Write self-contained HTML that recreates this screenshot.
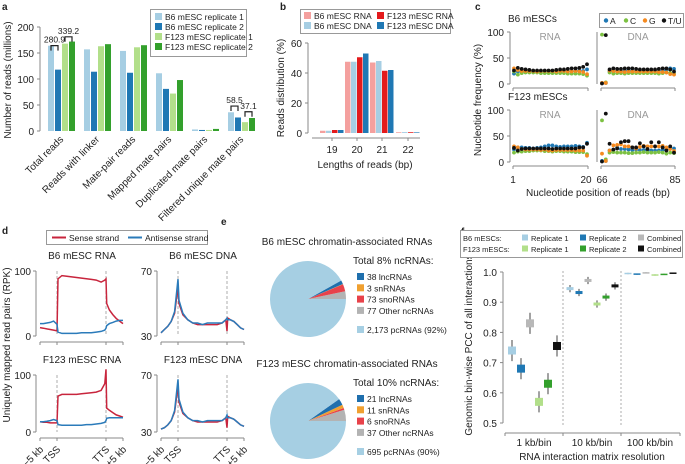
<!DOCTYPE html>
<html><head><meta charset="utf-8"><style>
html,body{margin:0;padding:0;background:#fff;}
svg{display:block;font-family:"Liberation Sans",Arial,sans-serif;}
</style></head><body>
<svg id="root" width="685" height="464" viewBox="0 0 685 464" xmlns="http://www.w3.org/2000/svg"></svg>
<script>
// ---------- Panel a data ----------
const aCats = ["Total reads","Reads with linker","Mate-pair reads","Mapped mate pairs","Duplicated mate pairs","Filtered unique mate pairs"];
const aRep1B6 = [164,157,154,111,3,36];
const aRep2B6 = [118,114,112,81,2,26];
const aRep1F = [168,163,161,72,2,17];
const aRep2F = [172,167,165,98,4,25];
const aTicks = [0,50,100,150,200];
// ---------- Panel b data ----------
const bCats = ["19","20","21","22"];
const bB6RNA = [1.5,47.5,47,0.5];
const bB6DNA = [1.5,47.5,48,0.6];
const bFRNA = [2,50.5,41.5,0.5];
const bFDNA = [2,53,42,0.4];
const bTicks = [0,20,40,60];
// ---------- Panel c data ----------
const cB6RnaA=[20,24,23,24,24,24,24,24,24,25,25,25,24,25,25,24,25,26,25,28];
const cB6RnaC=[24,18,21,22,22,22,22,21,21,21,21,21,21,21,20,20,20,20,19,16];
const cB6RnaG=[30,27,25,25,25,25,24,25,25,25,25,24,25,25,24,24,25,24,23,19];
const cB6RnaT=[26,31,29,28,27,26,26,26,26,26,26,27,28,28,29,30,30,31,33,38];
const cB6DnaA=[2,2,24,25,25,25,26,26,25,25,25,26,25,25,25,26,26,27,30,29];
const cB6DnaC=[95,3,22,20,21,21,20,21,21,21,21,21,21,21,21,20,21,22,21,20];
const cB6DnaG=[2,2,26,25,24,24,23,24,24,24,24,24,24,24,24,23,23,22,19,18];
const cB6DnaT=[1,94,28,30,29,29,30,30,30,29,28,28,28,28,28,29,30,30,28,24];
const cFRnaA=[24,28,28,27,27,26,27,28,30,32,32,30,29,30,30,30,31,30,29,37];
const cFRnaC=[18,20,20,21,21,22,22,22,21,21,20,21,21,20,20,20,19,19,19,15];
const cFRnaG=[30,28,25,24,24,24,24,23,24,22,22,23,23,23,23,23,22,22,22,12];
const cFRnaT=[27,22,25,26,26,26,26,26,26,26,25,26,26,26,26,26,26,28,28,35];
const cFDnaA=[2,2,22,23,28,25,25,24,23,24,23,23,22,22,22,22,23,24,28,26];
const cFDnaC=[80,5,18,19,18,18,18,17,17,18,18,19,18,18,18,19,18,16,18,17];
const cFDnaG=[16,2,22,32,33,34,30,30,28,26,29,31,30,30,30,30,31,28,25,21];
const cFDnaT=[1,93,35,24,26,38,40,40,28,28,36,30,25,38,30,38,28,22,30,18];
// ---------- Panel d data (metagene coordinate: 0=-5kb,10=TSS,30=TTS,40=+5kb) ----------
const dPos=[0,2,4,6,8,10,10.4,12,14,16,18,20,22,24,26,28,29.5,30,30.4,32,34,36,38,40];
const dB6RnaSense=[13,12,11,10,9,8,88,93,92,91,90,89,88,87,86,83,86,88,50,40,33,27,23,19];
const dB6RnaAnti=[19,19,20,21,23,18,6,4,4,4,4,5,5,5,6,7,9,12,16,19,21,23,24,24];
const dFRnaSense=[18,17,17,16,16,16,63,66,66,66,66,67,68,69,70,73,85,110,42,38,34,30,28,26];
const dFRnaAnti=[18,18,19,20,22,20,13,12,12,12,12,12,13,13,14,15,17,20,24,25,25,25,25,25];
const dB6DnaSense=[32,34,36,39,44,60,50,43,40,38,37,37,37,37,37,38,40,33,41,40,39,37,35,34];
const dB6DnaAnti=[32,34,36,39,45,65,52,44,40,38,38,37,38,38,38,38,40,41,40,40,39,37,35,34];
const dFDnaSense=[32,33,35,38,44,62,51,43,40,38,37,37,37,37,37,38,40,33,41,40,39,37,35,34];
const dFDnaAnti=[32,33,35,38,45,67,53,44,40,38,38,37,38,38,38,38,40,42,40,40,39,37,35,34];
// ---------- Panel e data ----------
const eLabels=["lncRNAs","snRNAs","snoRNAs","Other ncRNAs","pcRNAs"];
const eB6=[38,3,73,77,2173];
const eF=[21,11,6,37,695];
// ---------- Panel f data ----------
const fRes=["1 kb/bin","10 kb/bin","100 kb/bin"];
const fSeries=["B6 Replicate 1","B6 Replicate 2","B6 Combined","F123 Replicate 1","F123 Replicate 2","F123 Combined"];
const f1kb=[0.74,0.68,0.83,0.57,0.63,0.755];
const f10kb=[0.945,0.932,0.972,0.894,0.917,0.954];
const f100kb=[0.995,0.993,0.997,0.99,0.992,0.996];
const fErr=[0.035,0.012,0.002];
const fTicks=[0.5,0.6,0.7,0.8,0.9,1.0];

const NS="http://www.w3.org/2000/svg";
const root=document.getElementById('root');
function mk(tag,attrs,name,inter){
  const el=document.createElementNS(NS,tag);
  for(const k in attrs) el.setAttribute(k,attrs[k]);
  
  
  root.appendChild(el);return el;
}
function txt(x,y,s,name,opt){
  opt=opt||{};
  const el=mk('text',{x:x,y:y,'font-size':opt.fs||10,fill:opt.fill||'#222','text-anchor':opt.anchor||'start','font-weight':opt.bold?'bold':'normal'},name);
  if(opt.rot!==undefined) el.setAttribute('transform','rotate('+opt.rot+' '+x+' '+y+')');
  el.textContent=s;return el;
}
function line(x1,y1,x2,y2,name,st,w,dash){
  const el=mk('line',{x1:x1,y1:y1,x2:x2,y2:y2,stroke:st||'#888','stroke-width':w||1},name);
  if(dash) el.setAttribute('stroke-dasharray',dash);
  return el;
}
function rect(x,y,w,h,fill,name,stroke){
  const el=mk('rect',{x:x,y:y,width:w,height:h,fill:fill},name);
  if(stroke){el.setAttribute('stroke',stroke);}
  return el;
}
const LB='#a6cee3',DB='#1f78b4',LG='#b2df8a',DG='#33a02c',PK='#f4a09e',RD='#e31a1c';

// ================= Panel a =================
txt(2,10,'a','panel-a-label',{bold:true});
const aY=v=>131-v*0.52;
const aX0=48,aStep=36;
line(40,aY(0),40,aY(200),'a-y-axis');
aTicks.forEach(t=>{line(37,aY(t),40,aY(t),'a-y-tick');txt(34,aY(t)+4,String(t),'a-y-tick-label',{anchor:'end',fs:10});});
txt(11,80,'Number of reads (millions)','a-y-axis-title',{anchor:'middle',rot:-90});
const aSeries=[[aRep1B6,LB],[aRep2B6,DB],[aRep1F,LG],[aRep2F,DG]];
aCats.forEach((c,i)=>{
  aSeries.forEach((s,j)=>{
    const v=s[0][i];
    const r=rect(aX0+i*aStep+j*7,aY(v),6,v*0.52,s[1],'a-bar');
  });
  const cx=aX0+i*aStep+13;
  txt(cx+3,140,c,'a-x-tick-label',{anchor:'end',rot:-45,fs:10});
});
function bracket(x1,x2,y,label,name){
  const p=mk('path',{d:'M'+x1+' '+(y+5)+'V'+y+'H'+x2+'V'+(y+5),fill:'none',stroke:'#222','stroke-width':1.2},name+'-bracket');
  txt((x1+x2)/2,y-3,label,name+'-label',{anchor:'middle',fs:8.5});
}
bracket(51,58,aY(168)+2,'280.9','a-total-b6');
bracket(65,72,aY(185)+2,'339.2','a-total-f123');
bracket(231,238,aY(48),'58.5','a-filtered-b6');
bracket(245,252,aY(37),'37.1','a-filtered-f123');
rect(150.5,9.5,96,47,'#fff','a-legend','#999');
[['B6 mESC replicate 1',LB],['B6 mESC replicate 2',DB],['F123 mESC replicate 1',LG],['F123 mESC replicate 2',DG]].forEach((e,i)=>{
  rect(155,13+i*10,7,7,e[1],'a-legend-swatch');
  txt(165,20+i*10,e[0],'a-legend-entry',{fs:8.5});
});

// ================= Panel b =================
txt(280,10,'b','panel-b-label',{bold:true});
const bY=v=>133-v*1.5;
line(308,bY(0),308,bY(60),'b-y-axis');
bTicks.forEach(t=>{line(305,bY(t),308,bY(t),'b-y-tick');txt(302,bY(t)+4,String(t),'b-y-tick-label',{anchor:'end'});});
line(312,138,420,138,'b-x-axis');
const bCx=[332,357,382,408];
bCats.forEach((c,i)=>{
  line(bCx[i],138,bCx[i],141,'b-x-tick');
  txt(bCx[i],153,c,'b-x-tick-label',{anchor:'middle'});
  [[bB6RNA,PK],[bB6DNA,LB],[bFRNA,RD],[bFDNA,DB]].forEach((s,j)=>{
    const v=s[0][i];
    rect(bCx[i]-12+j*6,bY(v),5.5,v*1.5,s[1],'b-bar');
  });
});
txt(365,168,'Lengths of reads (bp)','b-x-axis-title',{anchor:'middle'});
txt(284,88,'Reads distribution (%)','b-y-axis-title',{anchor:'middle',rot:-90});
rect(300.5,9.5,150,24,'#fff','b-legend','#999');
[['B6 mESC RNA',PK,303,19],['F123 mESC RNA',RD,376,19],['B6 mESC DNA',LB,303,29],['F123 mESC DNA',DB,376,29]].forEach(e=>{
  rect(e[2]+1,e[3]-7,7,7,e[1],'b-legend-swatch');
  txt(e[2]+11,e[3],e[0],'b-legend-entry',{fs:8.5});
});

// ================= Panel c =================
txt(475,10,'c','panel-c-label',{bold:true});
const cCols=['#1f78b4','#7cc142','#f58a1f','#111'];
function cPanel(top,title,rna,dna,nm){
  const Y=v=>top+52-v*0.52;
  txt(508,top-10,title,'c-title-'+nm);
  line(510,Y(0),510,Y(100),'c-y-axis-'+nm);
  line(597,Y(0),597,Y(100),'c-dna-y-axis-'+nm);
  [0,50,100].forEach(t=>{line(507,Y(t),510,Y(t),'c-y-tick');txt(504,Y(t)+4,String(t),'c-y-tick-label',{anchor:'end'});});
  line(513,top+56,588,top+56,'c-rna-x-axis');line(513,top+56,513,top+59,'c-x-tick');line(588,top+56,588,top+59,'c-x-tick');
  line(601,top+56,675,top+56,'c-dna-x-axis');line(601,top+56,601,top+59,'c-x-tick');line(675,top+56,675,top+59,'c-x-tick');
  txt(550,top+8,'RNA','c-rna-label',{anchor:'middle',fill:'#999'});
  txt(638,top+8,'DNA','c-dna-label',{anchor:'middle',fill:'#999'});
  const X1=i=>514+i*(73/19), X2=i=>602+i*(72/19);
  [[rna,X1],[dna,X2]].forEach(p=>{
    p[0].forEach((arr,k)=>{arr.forEach((v,i)=>{
      mk('circle',{cx:p[1](i),cy:Y(v),r:1.9,fill:cCols[k]},'c-point');
    });});
  });
}
cPanel(32,'B6 mESCs',[cB6RnaA,cB6RnaC,cB6RnaG,cB6RnaT],[cB6DnaA,cB6DnaC,cB6DnaG,cB6DnaT],'b6');
cPanel(110,'F123 mESCs',[cFRnaA,cFRnaC,cFRnaG,cFRnaT],[cFDnaA,cFDnaC,cFDnaG,cFDnaT],'f123');
txt(513,183,'1','c-x-tick-label',{anchor:'middle'});
txt(586,183,'20','c-x-tick-label',{anchor:'middle'});
txt(602,183,'66','c-x-tick-label',{anchor:'middle'});
txt(675,183,'85','c-x-tick-label',{anchor:'middle'});
txt(598,196,'Nucleotide position of reads (bp)','c-x-axis-title',{anchor:'middle'});
txt(481,100,'Nucleotide frequency (%)','c-y-axis-title',{anchor:'middle',rot:-90});
rect(599.5,13.5,84,14,'#fff','c-legend','#999');
[['A',603],['C',623],['G',642],['T/U',661]].forEach((e,k)=>{
  mk('circle',{cx:e[1]+3,cy:20.5,r:2.2,fill:cCols[k]},'c-legend-marker');
  txt(e[1]+7,24,e[0],'c-legend-entry',{fs:8.5});
});

// ================= Panel d =================
txt(2,234,'d','panel-d-label',{bold:true});
rect(46.5,230.5,161,14,'#fff','d-legend','#999');
line(52,237.5,66,237.5,'d-legend-sense-line','#c8253d',2);
txt(69,241,'Sense strand','d-legend-entry',{fs:8.5});
line(128,237.5,142,237.5,'d-legend-anti-line','#2b7bba',2);
txt(145,241,'Antisense strand','d-legend-entry',{fs:8.5});
function dPanel(x0,top,bot,ymin,ymax,title,sense,anti,ticks,nm){
  const X=u=> u<=10? x0+u*1.7 : (u<=30? x0+17+(u-10)*2.45 : x0+66+(u-30)*1.7);
  const Y=v=> bot-(v-ymin)/(ymax-ymin)*(bot-top);
  txt(x0+42,top-12,title,'d-title-'+nm,{anchor:'middle'});
  line(x0-4,bot,x0-4,top,'d-y-axis');
  ticks.forEach(t=>{line(x0-7,Y(t),x0-4,Y(t),'d-y-tick');txt(x0-9,Y(t)+4,String(t),'d-y-tick-label',{anchor:'end'});});
  line(x0,bot+6,x0+83,bot+6,'d-x-axis');
  [0,10,30,40].forEach(u=>line(X(u),bot+6,X(u),bot+9,'d-x-tick'));
  line(X(10),top,X(10),bot,'d-tss-line','#999',0.8,'3,2');
  line(X(30),top,X(30),bot,'d-tts-line','#999',0.8,'3,2');
  [[sense,'#c8253d','d-sense-line'],[anti,'#2b7bba','d-antisense-line']].forEach(s=>{
    const d=s[0].map((v,i)=>(i?'L':'M')+X(dPos[i]).toFixed(1)+' '+Y(v).toFixed(1)).join('');
    mk('path',{d:d,fill:'none',stroke:s[1],'stroke-width':1.5},s[2]);
  });
  return X;
}
dPanel(40,271,336,0,100,'B6 mESC RNA',dB6RnaSense,dB6RnaAnti,[0,100],'b6-rna');
const XL=dPanel(40,375,432,0,100,'F123 mESC RNA',dFRnaSense,dFRnaAnti,[0,100],'f-rna');
dPanel(161,271,336,30,70,'B6 mESC DNA',dB6DnaSense,dB6DnaAnti,[30,70],'b6-dna');
const XR=dPanel(161,375,432,30,70,'F123 mESC DNA',dFDnaSense,dFDnaAnti,[30,70],'f-dna');
[[XL,0,'−5 kb'],[XL,10,'TSS'],[XL,30,'TTS'],[XL,40,'+5 kb'],[XR,0,'−5 kb'],[XR,10,'TSS'],[XR,30,'TTS'],[XR,40,'+5 kb']].forEach(e=>{
  txt(e[0](e[1])+4,450,e[2],'d-x-tick-label',{anchor:'end',rot:-45});
});
txt(10,345,'Uniquely mapped read pairs (RPK)','d-y-axis-title',{anchor:'middle',rot:-90});

// ================= Panel e =================
txt(221,225,'e','panel-e-label',{bold:true});
const eCols=['#1f6fad','#f0a030','#e8424a','#b3b3b3','#a6cfe3'];
function pie(cx,cy,r,vals,nm){
  const tot=vals.reduce((a,b)=>a+b,0);
  // draw order CCW from 0 deg: other, sno, sn, lnc, pc
  const order=[3,2,1,0,4];
  let a=0;
  order.forEach(k=>{
    const a2=a+vals[k]/tot*2*Math.PI;
    const x1=cx+r*Math.cos(a),y1=cy-r*Math.sin(a),x2=cx+r*Math.cos(a2),y2=cy-r*Math.sin(a2);
    const large=(a2-a)>Math.PI?1:0;
    mk('path',{d:'M'+cx+' '+cy+'L'+x1.toFixed(2)+' '+y1.toFixed(2)+'A'+r+' '+r+' 0 '+large+' 0 '+x2.toFixed(2)+' '+y2.toFixed(2)+'Z',fill:eCols[k]},'e-slice-'+nm);
    a=a2;
  });
}
function eBlock(top,title,vals,pct,pcPct,nm){
  txt(347,top,title,'e-title-'+nm,{anchor:'middle'});
  pie(308,top+54,38,vals,nm);
  txt(353,top+19,'Total '+pct+'% ncRNAs:','e-total-'+nm);
  for(let k=0;k<4;k++){
    rect(357,top+28+k*11.3,7,7,eCols[k],'e-legend-swatch');
    txt(367,top+35+k*11.3,vals[k]+' '+eLabels[k],'e-legend-entry',{fs:8.5});
  }
  rect(357,top+81,7,7,eCols[4],'e-legend-swatch');
  txt(367,top+88,vals[4].toLocaleString('en-US')+' pcRNAs ('+pcPct+'%)','e-legend-entry',{fs:8.5});
}
eBlock(245,'B6 mESC chromatin-associated RNAs',eB6,8,92,'b6');
eBlock(367,'F123 mESC chromatin-associated RNAs',eF,10,90,'f123');

// ================= Panel f =================
txt(461,235,'f','panel-f-label',{bold:true});
const fY=v=>423-(v-0.5)*302;
line(503,fY(0.5),503,fY(1.0),'f-y-axis');
fTicks.forEach(t=>{line(500,fY(t),503,fY(t),'f-y-tick');txt(497,fY(t)+4,t.toFixed(1),'f-y-tick-label',{anchor:'end'});});
line(505,433,680,433,'f-x-axis');
[505,563,621,680].forEach(x=>line(x,433,x,436,'f-x-tick'));
line(563,271,563,426,'f-divider','#999',0.8,'2,2');
line(621,271,621,426,'f-divider','#999',0.8,'2,2');
fRes.forEach((r,i)=>txt(534+i*58,446,r,'f-x-tick-label',{anchor:'middle'}));
txt(592,460,'RNA interaction matrix resolution','f-x-axis-title',{anchor:'middle'});
txt(472,345,'Genomic bin-wise PCC of all interactions','f-y-axis-title',{anchor:'middle',rot:-90});
const fCols=[LB,DB,'#b8b8b8',LG,DG,'#111'];
const fSz=[[8,8],[7,3],[7,1.5]];
[f1kb,f10kb,f100kb].forEach((arr,g)=>{
  arr.forEach((v,k)=>{
    const x=512+g*58+k*9;
    line(x,fY(v+fErr[g]),x,fY(v-fErr[g]),'f-error-bar','#444',1);
    rect(x-fSz[g][0]/2,fY(v)-fSz[g][1]/2,fSz[g][0],fSz[g][1],fCols[k],'f-marker');
  });
});
rect(460.5,230.5,222,27,'#fff','f-legend','#999');
txt(463,241,'B6 mESCs:','f-legend-row-label',{fs:7.5});
txt(463,252,'F123 mESCs:','f-legend-row-label',{fs:7.5});
[['Replicate 1',522],['Replicate 2',580],['Combined',638]].forEach((e,c)=>{
  [0,1].forEach(r=>{
    rect(e[1],234.5+r*11,6,6,fCols[r*3+c],'f-legend-swatch');
    txt(e[1]+9,241+r*11,e[0],'f-legend-entry',{fs:7.5});
  });
});
</script>
</body></html>
